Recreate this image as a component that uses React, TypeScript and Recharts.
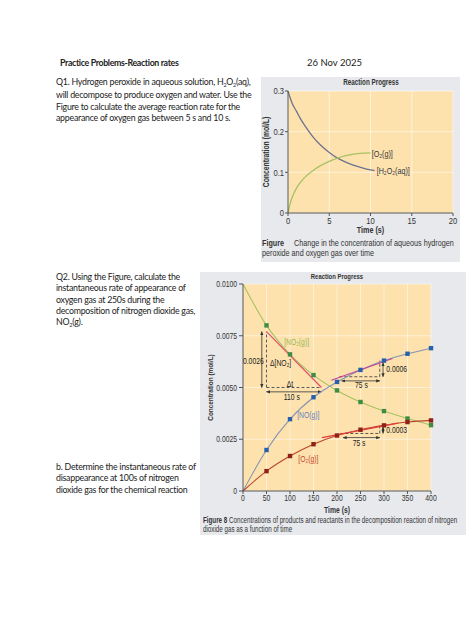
import React from 'react'
import { LineChart, Line, XAxis, YAxis, CartesianGrid, ReferenceLine, ReferenceDot, Label } from 'recharts'

// figure 1: H2O2 -> O2
const T1 = [0, 0.25, 0.5, 1, 1.5, 2, 3, 4, 5, 6, 7, 8, 9, 10, 10.5]
const H2O2 = [0.3, 0.284, 0.27, 0.251, 0.232, 0.216, 0.188, 0.166, 0.149, 0.135, 0.125, 0.117, 0.111, 0.106, 0.104]
const O2_1 = [0, 0.022, 0.038, 0.06, 0.075, 0.087, 0.104, 0.117, 0.127, 0.135, 0.141, 0.145, 0.147, 0.148, null]
const X1_TICKS = [0, 5, 10, 15, 20]
const Y1_TICKS = [0, 0.1, 0.2, 0.3]
const FIG1_LABELS = [
  { x: 10.15, y: 0.146, text: '[O₂(g)]' },
  { x: 10.75, y: 0.105, text: '[H₂O₂(aq)]' },
]

// figure 8: 2NO2 -> 2NO + O2
const T2 = [0, 50, 100, 150, 200, 250, 300, 350, 400]
const NO2 = [0.01, 0.0080, 0.0066, 0.0056, 0.00486, 0.0043, 0.00386, 0.0035, 0.00318]
const NO = [0, 0.00198, 0.00347, 0.00453, 0.00527, 0.00585, 0.0063, 0.00663, 0.0069]
const O2_2 = [0, 0.00096, 0.00169, 0.00226, 0.00268, 0.00296, 0.00317, 0.00333, 0.00341]
const X2_TICKS = [0, 50, 100, 150, 200, 250, 300, 350, 400]
const Y2_TICKS = [0, 0.0025, 0.005, 0.0075, 0.01]

const TANGENTS = [
  [50, 0.0077, 167, 0.0050],
  [188, 0.00535, 318, 0.0064],
  [168, 0.00258, 330, 0.00328],
]
const DASHED = [
  [50, 0.0050, 165, 0.0050],
  [50, 0.0050, 50, 0.0077],
  [205, 0.00552, 291, 0.00552],
  [291, 0.00552, 291, 0.0063],
  [207, 0.00278, 291, 0.00278],
  [291, 0.00278, 291, 0.0032],
]
const ARROWS = [
  [40, 0.0050, 40, 0.0077],
  [50, 0.00479, 167, 0.00479],
  [210, 0.00532, 291, 0.00532],
  [298, 0.00552, 298, 0.0062],
  [213, 0.00258, 291, 0.00258],
  [298, 0.00278, 298, 0.0031],
]
const NOTES = [
  { x: 22, y: 0.0063, text: '0.0026' },
  { x: 80, y: 0.0062, text: 'Δ[NO₂]' },
  { x: 100, y: 0.00518, text: 'Δt' },
  { x: 104, y: 0.00455, text: '110 s' },
  { x: 252, y: 0.0051, text: '75 s' },
  { x: 327, y: 0.00588, text: '0.0006' },
  { x: 247, y: 0.00232, text: '75 s' },
  { x: 327, y: 0.00296, text: '0.0003' },
]
const SERIES_LABELS = [
  { x: 114, y: 0.0072, text: '[NO₂(g)]' },
  { x: 139, y: 0.00366, text: '[NO(g)]' },
  { x: 139, y: 0.00157, text: '[O₂(g)]' },
]

const fig1 = T1.map((t, i) => ({ t, h: H2O2[i], o: O2_1[i] }))
const fig8 = T2.map((t, i) => ({ t, no2: NO2[i], no: NO[i], o2: O2_2[i] }))

const TXT = 'Lato, "Open Sans", sans-serif'
const FIG = '"Liberation Sans", Arial, sans-serif'
const INK = '#222'
const PANEL = '#e7e9ed'
const PLOT = '#fde2ae'
const AXIS = '#555'
const GREEN = '#a6c262'
const GREEN_DOT = '#3f8c44'
const BLUE = '#8594b2'
const BLUE_DOT = '#2761ad'
const RED = '#b9442c'
const RED_DOT = '#8d2219'
const TAN_COLORS = ['#e2506e', '#c4469c', '#e23c3c']
const LABEL_COLORS = ['#94b653', '#5d80c2', '#c4452d']

const Sub = ({ children }: { children: React.ReactNode }) => (
  <span style={{ fontSize: '0.62em', position: 'relative', top: '0.3em' }}>{children}</span>
)

function Lines({ x, y, lines }: { x: number; y: number; lines: React.ReactNode[] }) {
  return (
    <div style={{ position: 'absolute', left: x, top: y, fontFamily: TXT, fontSize: 8.8, letterSpacing: -0.25, color: INK, lineHeight: '11.3px', whiteSpace: 'nowrap' }}>
      {lines.map((l, i) => <div key={i}>{l}</div>)}
    </div>
  )
}

// condensed svg text (no narrow font installed, so squeeze horizontally)
function NText({ x, y, anchor = 'middle', size, bold = false, fill = '#333', rotate = 0, sx = 0.8, dy = '0.355em', children }: any) {
  return (
    <g transform={`translate(${x},${y}) rotate(${rotate}) scale(${sx},1)`}>
      <text x={0} y={0} dy={dy} textAnchor={anchor} fontSize={size} fontWeight={bold ? 'bold' : 'normal'} fill={fill} fontFamily={FIG}>{children}</text>
    </g>
  )
}

const yTick = (size: number, fmt: (v: number) => string) => (p: any) => (
  <NText x={p.x} y={p.y} anchor="end" size={size}>{fmt(p.payload.value)}</NText>
)
const xTick = (size: number) => (p: any) => (
  <NText x={p.x} y={p.y} dy="0.72em" size={size}>{p.payload.value}</NText>
)

const xTitle = (size: number, down: number) => (p: any) => {
  const vb = p.viewBox
  if (!vb) return null
  return <NText x={vb.x + vb.width / 2} y={vb.y + down} size={size} bold>Time (s)</NText>
}
const yTitle = (size: number, left: number) => (p: any) => {
  const vb = p.viewBox
  if (!vb) return null
  return <NText x={vb.x + left} y={vb.y + vb.height / 2} size={size} bold rotate={-90}>Concentration (mol/L)</NText>
}
const noteLabel = (text: string, size: number, fill: string, anchor: string) => (p: any) => {
  const vb = p.viewBox
  if (!vb) return null
  return <NText x={vb.x} y={vb.y} size={size} fill={fill} anchor={anchor}>{text}</NText>
}

const square = (color: string) => (p: any) =>
  p.index === 0 ? <g key={p.index} /> : <rect key={p.index} x={p.cx - 2.2} y={p.cy - 2.2} width={4.4} height={4.4} fill={color} />

const arrowShape = (p: any) => (
  <line x1={p.x1} y1={p.y1} x2={p.x2} y2={p.y2} stroke="#333" strokeWidth={0.8} markerStart="url(#ah)" markerEnd="url(#ah)" />
)

const squeeze = (k: number): React.CSSProperties => ({ transform: `scaleX(${k})`, transformOrigin: 'left top' })

function Figure1() {
  return (
    <div style={{ position: 'absolute', left: 261, top: 77, width: 199, height: 185, background: PANEL, fontFamily: FIG }}>
      <div style={{ position: 'absolute', left: 27, width: 166, top: 0, textAlign: 'center', fontWeight: 'bold', fontSize: 8.5, lineHeight: '11px', color: '#333', transform: 'scaleX(0.74)' }}>Reaction Progress</div>
      <LineChart width={199} height={160} data={fig1} margin={{ top: 14, right: 7, bottom: 0, left: 0 }}>
        <CartesianGrid fill={PLOT} stroke="#fff" strokeOpacity={0.7} strokeWidth={0.8} />
        <XAxis type="number" dataKey="t" domain={[0, 20]} ticks={X1_TICKS} interval={0} height={24} tick={xTick(9.5)} tickSize={3}
          axisLine={{ stroke: AXIS }} tickLine={{ stroke: AXIS }} tickMargin={1}>
          <Label content={xTitle(9, 17)} />
        </XAxis>
        <YAxis type="number" domain={[0, 0.3]} ticks={Y1_TICKS} interval={0} width={27} tick={yTick(9.5, (v) => String(v))} tickSize={3}
          axisLine={{ stroke: AXIS }} tickLine={{ stroke: AXIS }} tickMargin={1}>
          <Label content={yTitle(8.5, 5)} />
        </YAxis>
        <Line type="monotone" dataKey="h" stroke="#6d7290" strokeWidth={1.3} dot={false} isAnimationActive={false} />
        <Line type="monotone" dataKey="o" stroke={GREEN} strokeWidth={1.3} dot={false} isAnimationActive={false} />
        {FIG1_LABELS.map((l, i) => (
          <ReferenceDot key={i} x={l.x} y={l.y} r={0} stroke="none" label={{ content: noteLabel(l.text, 9, '#333', 'start') }} />
        ))}
      </LineChart>
      <div style={{ position: 'absolute', left: 1, top: 161, fontSize: 9, lineHeight: '10px', color: '#333', whiteSpace: 'nowrap', ...squeeze(0.8) }}>
        <div><b>Figure</b>&nbsp;&nbsp;&nbsp;&nbsp; Change in the concentration of aqueous hydrogen</div>
        <div>peroxide and oxygen gas over time</div>
      </div>
    </div>
  )
}

function Figure8() {
  return (
    <div style={{ position: 'absolute', left: 200, top: 272, width: 266, height: 263, background: PANEL, fontFamily: FIG }}>
      <div style={{ position: 'absolute', left: 43, width: 188, top: 0, textAlign: 'center', fontWeight: 'bold', fontSize: 8, lineHeight: '10px', color: '#333', transform: 'scaleX(0.74)' }}>Reaction Progress</div>
      <LineChart width={266} height={245} data={fig8} margin={{ top: 12, right: 35, bottom: 0, left: 0 }}>
        <CartesianGrid fill={PLOT} stroke="#fff" strokeOpacity={0.6} strokeWidth={0.8} />
        <XAxis type="number" dataKey="t" domain={[0, 400]} ticks={X2_TICKS} interval={0} height={26} tick={xTick(8.5)} tickSize={3}
          axisLine={{ stroke: AXIS }} tickLine={{ stroke: AXIS }} tickMargin={1}>
          <Label content={xTitle(8.5, 19)} />
        </XAxis>
        <YAxis type="number" domain={[0, 0.01]} ticks={Y2_TICKS} interval={0} width={43} tick={yTick(8.5, (v) => (v === 0 ? '0' : v.toFixed(4)))} tickSize={4}
          axisLine={{ stroke: AXIS }} tickLine={{ stroke: AXIS }} tickMargin={2}>
          <Label content={yTitle(8, 10)} />
        </YAxis>
        {DASHED.map((s, i) => (
          <ReferenceLine key={'d' + i} segment={[{ x: s[0], y: s[1] }, { x: s[2], y: s[3] }]} stroke="#333" strokeWidth={0.8} strokeDasharray="3 2" ifOverflow="visible" />
        ))}
        {ARROWS.map((s, i) => (
          <ReferenceLine key={'a' + i} segment={[{ x: s[0], y: s[1] }, { x: s[2], y: s[3] }]} shape={arrowShape} ifOverflow="visible" />
        ))}
        <Line type="monotone" dataKey="no2" stroke={GREEN} strokeWidth={1.1} dot={square(GREEN_DOT)} isAnimationActive={false} />
        <Line type="monotone" dataKey="no" stroke={BLUE} strokeWidth={1.1} dot={square(BLUE_DOT)} isAnimationActive={false} />
        <Line type="monotone" dataKey="o2" stroke={RED} strokeWidth={1.1} dot={square(RED_DOT)} isAnimationActive={false} />
        {TANGENTS.map((s, i) => (
          <ReferenceLine key={'t' + i} segment={[{ x: s[0], y: s[1] }, { x: s[2], y: s[3] }]} stroke={TAN_COLORS[i]} strokeWidth={1.2} ifOverflow="visible" />
        ))}
        {NOTES.map((n, i) => (
          <ReferenceDot key={'n' + i} x={n.x} y={n.y} r={0} stroke="none" label={{ content: noteLabel(n.text, 8.5, '#222', 'middle') }} />
        ))}
        {SERIES_LABELS.map((n, i) => (
          <ReferenceDot key={'s' + i} x={n.x} y={n.y} r={0} stroke="none" label={{ content: noteLabel(n.text, 8.5, LABEL_COLORS[i], 'middle') }} />
        ))}
      </LineChart>
      <div style={{ position: 'absolute', left: 3, top: 244, fontSize: 8.4, lineHeight: '8.5px', color: '#333', whiteSpace: 'nowrap', ...squeeze(0.745) }}>
        <div><b>Figure 8</b> Concentrations of products and reactants in the decomposition reaction of nitrogen</div>
        <div>dioxide gas as a function of time</div>
      </div>
    </div>
  )
}

export default function App() {
  return (
    <div style={{ position: 'absolute', left: 0, top: 0, width: 474, height: 632, background: '#fff', overflow: 'hidden' }}>
      <svg width={0} height={0} style={{ position: 'absolute' }}>
        <defs>
          <marker id="ah" viewBox="0 0 10 10" refX="9" refY="5" markerWidth="5" markerHeight="5" orient="auto-start-reverse">
            <path d="M0,1 L10,5 L0,9 z" fill="#333" />
          </marker>
        </defs>
      </svg>
      <div style={{ position: 'absolute', left: 60, top: 57, fontFamily: TXT, fontSize: 8.8, letterSpacing: -0.35, fontWeight: 'bold', color: INK, whiteSpace: 'nowrap', lineHeight: '12px' }}>Practice Problems-Reaction rates</div>
      <div style={{ position: 'absolute', left: 307, top: 57, fontFamily: TXT, fontSize: 9.5, color: INK, whiteSpace: 'nowrap', lineHeight: '12px' }}>26 Nov 2025</div>
      <Lines x={56} y={76} lines={[
        <>Q1. Hydrogen peroxide in aqueous solution, H<Sub>2</Sub>O<Sub>2</Sub>(aq),</>,
        'will decompose to produce oxygen and water. Use the',
        'Figure to calculate the average reaction rate for the',
        'appearance of oxygen gas between 5 s and 10 s.',
      ]} />
      <Lines x={56} y={271} lines={[
        'Q2. Using the Figure, calculate the',
        'instantaneous rate of appearance of',
        'oxygen gas at 250s during the',
        'decomposition of nitrogen dioxide gas,',
        <>NO<Sub>2</Sub>(g).</>,
      ]} />
      <Lines x={56} y={461} lines={[
        'b. Determine the instantaneous rate of',
        'disappearance at 100s of nitrogen',
        'dioxide gas for the chemical reaction',
      ]} />
      <Figure1 />
      <Figure8 />
    </div>
  )
}
